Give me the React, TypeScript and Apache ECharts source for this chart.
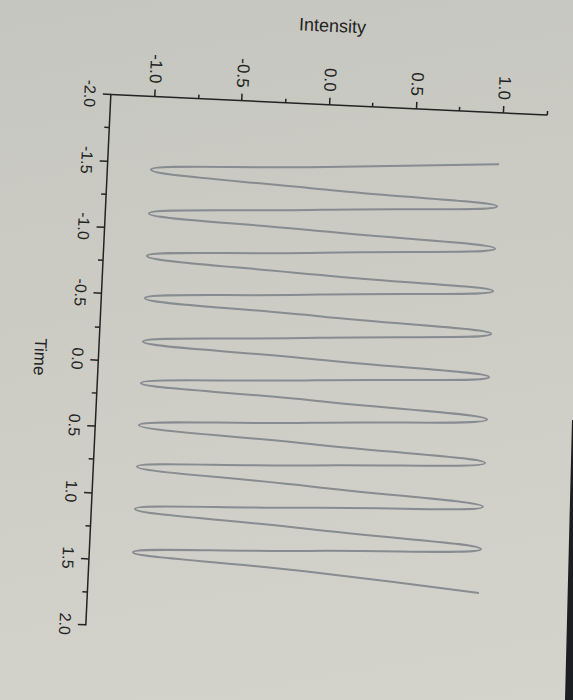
import React, { useEffect, useRef } from "react";
import * as echarts from "echarts";

// ---- data ----
const timeValues = [
  -1.612, -1.53, -1.448, -1.36, -1.295, -1.208, -1.118, -1.045, -0.976, -0.884,
  -0.798, -0.715, -0.656, -0.568, -0.479, -0.405, -0.333, -0.242, -0.152, -0.079,
  -0.007, 0.078, 0.161, 0.232, 0.313, 0.398, 0.478, 0.561, 0.64, 0.72,
  0.791, 0.879, 0.971, 1.04, 1.11, 1.2, 1.29, 1.365, 1.437, 1.52, 1.62,
];
const intensityValues = [
  0.99, 0, -1.0, 0, 0.99, 0, -1.0, 0, 0.99, 0,
  -1.0, 0, 0.99, 0, -1.0, 0, 0.99, 0, -1.0, 0,
  0.99, 0, -1.0, 0, 0.99, 0, -1.0, 0, 0.99, 0,
  -1.0, 0, 0.99, 0, -1.0, 0, 0.99, 0, -1.0, 0, 0.99,
];

const timeTickValues = [-2, -1.5, -1, -0.5, 0, 0.5, 1, 1.5, 2];
const timeTickLabels = ["-2.0", "-1.5", "-1.0", "-0.5", "0.0", "0.5", "1.0", "1.5", "2.0"];
const timeMinorTicks = [-1.75, -1.25, -0.75, -0.25, 0.25, 0.75, 1.25, 1.75];

const intensityTickValues = [-1, -0.5, 0, 0.5, 1];
const intensityTickLabels = ["-1.0", "-0.5", "0.0", "0.5", "1.0"];
const intensityMinorTicks = [-0.75, -0.25, 0.25, 0.75, 1.25];

const labelFor = (vals: number[], labels: string[]) => (v: number) => {
  const i = vals.findIndex((t) => Math.abs(t - v) < 1e-9);
  return i >= 0 ? labels[i] : "";
};

const FONT = "'Liberation Sans', Arial, sans-serif";
const INK = "#232323";

export default function App() {
  const ref = useRef<HTMLDivElement>(null);

  useEffect(() => {
    if (!ref.current) return;
    const chart = echarts.init(ref.current, null, { renderer: "svg" });
    const seriesData = timeValues.map((t, i) => [intensityValues[i], t]);

    chart.setOption({
      animation: false,
      backgroundColor: "transparent",
      textStyle: { fontFamily: FONT },
      grid: { left: 99, top: 103, right: 37.5, bottom: 66, containLabel: false },
      xAxis: [
        {
          type: "value",
          position: "top",
          min: -1.25,
          max: 1.25,
          name: "Intensity",
          nameLocation: "middle",
          nameGap: 70,
          nameTextStyle: { fontSize: 18, color: INK, fontFamily: FONT },
          axisLine: { show: true, onZero: false, lineStyle: { color: INK, width: 1.5 } },
          axisTick: {
            show: true,
            length: 7,
            customValues: intensityTickValues,
            lineStyle: { color: INK, width: 1.5 },
          },
          axisLabel: {
            show: true,
            customValues: intensityTickValues,
            rotate: 90,
            margin: 13,
            fontSize: 17,
            color: INK,
            fontFamily: FONT,
            formatter: labelFor(intensityTickValues, intensityTickLabels),
          },
          splitLine: { show: false },
        },
        {
          type: "value",
          position: "top",
          min: -1.25,
          max: 1.25,
          axisLine: { show: false, onZero: false },
          axisTick: {
            show: true,
            length: 4,
            customValues: intensityMinorTicks,
            lineStyle: { color: INK, width: 1.5 },
          },
          axisLabel: { show: false },
          splitLine: { show: false },
        },
      ],
      yAxis: [
        {
          type: "value",
          position: "left",
          inverse: true,
          min: -2,
          max: 2,
          name: "Time",
          nameLocation: "middle",
          nameRotate: -90,
          nameGap: 50,
          nameTextStyle: { fontSize: 17, color: INK, fontFamily: FONT },
          axisLine: { show: true, onZero: false, lineStyle: { color: INK, width: 1.5 } },
          axisTick: {
            show: true,
            length: 8,
            customValues: timeTickValues,
            lineStyle: { color: INK, width: 1.5 },
          },
          axisLabel: {
            show: true,
            customValues: timeTickValues,
            rotate: -90,
            margin: 13,
            fontSize: 16,
            color: INK,
            fontFamily: FONT,
            formatter: labelFor(timeTickValues, timeTickLabels),
          },
          splitLine: { show: false },
        },
        {
          type: "value",
          position: "left",
          inverse: true,
          min: -2,
          max: 2,
          axisLine: { show: false, onZero: false },
          axisTick: {
            show: true,
            length: 5,
            customValues: timeMinorTicks,
            lineStyle: { color: INK, width: 1.5 },
          },
          axisLabel: { show: false },
          splitLine: { show: false },
        },
      ],
      series: [
        {
          type: "line",
          xAxisIndex: 0,
          yAxisIndex: 0,
          data: seriesData,
          showSymbol: false,
          smooth: 0.5,
          lineStyle: { color: "#878b92", width: 2 },
        },
      ],
    });

    return () => chart.dispose();
  }, []);

  return (
    <div
      style={{
        position: "fixed",
        left: 0,
        top: 0,
        width: 573,
        height: 700,
        overflow: "hidden",
        background: "linear-gradient(170deg, #c5c6bf 0%, #cdcdc5 50%, #d5d4cc 100%)",
      }}
    >
      <div
        ref={ref}
        style={{
          position: "absolute",
          left: 0,
          top: 0,
          width: 573,
          height: 700,
          transform: "rotate(2.7deg)",
          transformOrigin: "286.5px 350px",
        }}
      />
      <div
        style={{
          position: "absolute",
          left: 0,
          top: 0,
          width: 573,
          height: 700,
          background: "#1c1e22",
          clipPath: "polygon(572px 420px, 573px 420px, 573px 700px, 565px 700px)",
        }}
      />
    </div>
  );
}
